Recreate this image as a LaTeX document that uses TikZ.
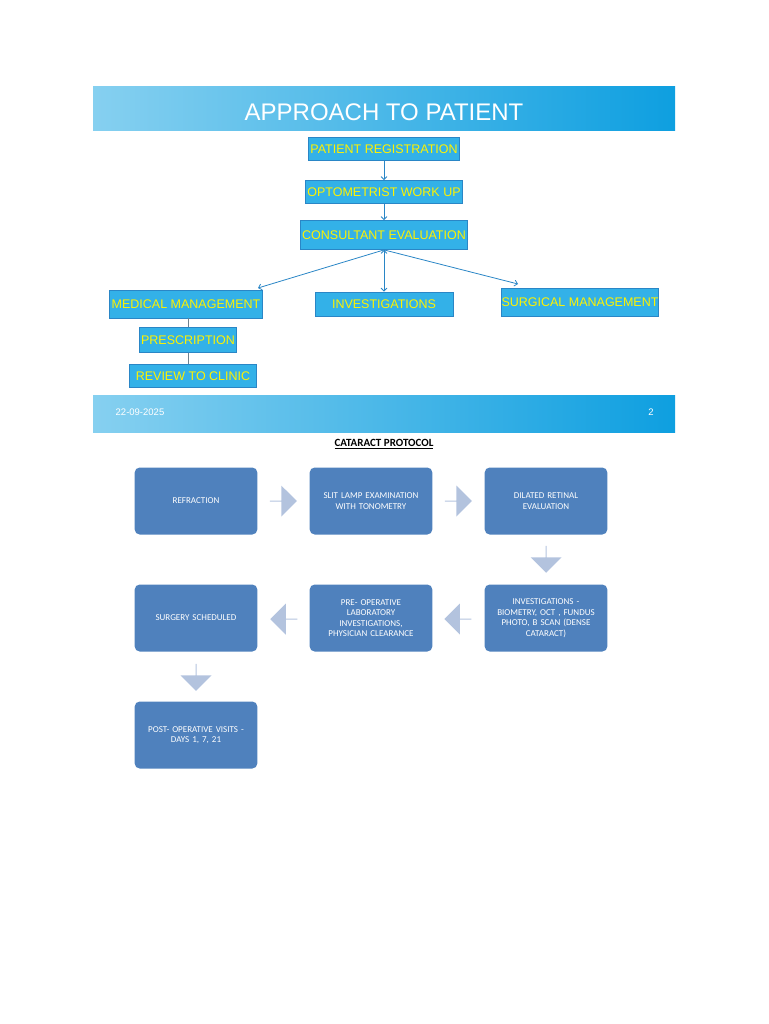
\documentclass[tikz,border=0pt]{standalone}
\usepackage{fontspec}
\setmainfont{Liberation Sans}
\newfontfamily\calib{Carlito}
\usetikzlibrary{positioning,arrows.meta,shapes.arrows}
\definecolor{bannerL}{HTML}{86D0F0}
\definecolor{bannerR}{HTML}{0E9FE0}
\definecolor{stepfill}{HTML}{33B1E8}
\definecolor{stepline}{HTML}{2A86C6}
\definecolor{protofill}{HTML}{4F81BD}
\definecolor{chevron}{HTML}{B3C3DE}
\tikzset{
  flowbox/.style={draw=stepline, fill=stepfill, text=yellow, font=\fontsize{12.5}{14}\selectfont,
    inner sep=2pt, line width=0.8pt, minimum height=23pt},
  proto/.style={fill=protofill, rounded corners=5pt, minimum width=122pt, minimum height=67pt,
    text width=116pt, align=center, text=white, font=\calib\fontsize{9}{10.5}\selectfont},
  chev/.style={single arrow, fill=chevron, minimum height=27pt, minimum width=31pt,
    single arrow head extend=6pt, inner sep=0pt, text width=0pt}
}
\begin{document}
\begin{tikzpicture}[x=1pt, y=-1pt]
    \useasboundingbox (0,0) rectangle (768,1024);

    % banners
    \shade[left color=bannerL, right color=bannerR] (93,87) rectangle (675,131);
    \node[text=white, font=\fontsize{24}{28}\selectfont] (title) at (384,112) {APPROACH TO PATIENT};
    \shade[left color=bannerL, right color=bannerR] (93,395) rectangle (675,432);
    \node[text=white, font=\fontsize{9.5}{11}\selectfont] (date) at (140,412) {22-09-2025};
    \node[text=white, font=\fontsize{9.5}{11}\selectfont] (page) at (651,412) {2};

    % approach flow
    \node[flowbox] (reg) at (384,149) {PATIENT REGISTRATION};
    \node[flowbox] (opto) at (384,192) {OPTOMETRIST WORK UP};
    \node[flowbox, minimum height=29pt] (cons) at (384,235) {CONSULTANT EVALUATION};
    \node[flowbox, minimum height=28pt] (med) at (186,304) {MEDICAL MANAGEMENT};
    \node[flowbox, inner xsep=17pt, minimum height=24pt] (inv) at (384,304) {INVESTIGATIONS};
    \node[flowbox, inner xsep=0pt, minimum height=28pt] (surg) at (580,302) {SURGICAL MANAGEMENT};
    \node[flowbox, minimum height=25pt] (presc) at (188,340) {PRESCRIPTION};
    \node[flowbox, inner xsep=6pt] (rev) at (193,376) {REVIEW TO CLINIC};
    \coordinate (medtip) at (258,288);
    \coordinate (surgtip) at (518,284);

    \path[draw=stepline, -{Straight Barb[length=3pt]}, line width=0.8pt]
        (reg) edge (opto)
        (opto) edge (cons)
        (cons.south) edge (medtip)
        (cons.south) edge (inv)
        (cons.south) edge (surgtip);
    \draw[draw=gray!80!stepline, line width=0.8pt] (med.south -| presc) -- (presc) -- (presc.south |- rev.north);

    % cataract protocol
    \node[font=\calib\bfseries\fontsize{11}{13}\selectfont] (cp) at (384,444) {\underline{CATARACT PROTOCOL}};
    \node[proto] (refr) at (196,501) {REFRACTION};
    \node[proto] (slit) at (371,501) {SLIT LAMP EXAMINATION\\WITH TONOMETRY};
    \node[proto] (dil) at (546,501) {DILATED RETINAL\\EVALUATION};
    \node[proto] (invc) at (546,618) {INVESTIGATIONS -\\BIOMETRY, OCT , FUNDUS\\PHOTO, B SCAN (DENSE\\CATARACT)};
    \node[proto] (preop) at (371,618) {PRE- OPERATIVE\\LABORATORY\\INVESTIGATIONS,\\PHYSICIAN CLEARANCE};
    \node[proto] (sched) at (196,618) {SURGERY SCHEDULED};
    \node[proto] (post) at (196,735) {POST- OPERATIVE VISITS -\\DAYS 1, 7, 21};

    \node[chev] (c1) at (283,501) {};
    \node[chev] (c2) at (458,501) {};
    \node[chev, rotate=-90] (c3) at (546,559) {};
    \node[chev, rotate=180] (c4) at (458,619) {};
    \node[chev, rotate=180] (c5) at (284,619) {};
    \node[chev, rotate=-90] (c6) at (196,677) {};
\end{tikzpicture}
\end{document}
